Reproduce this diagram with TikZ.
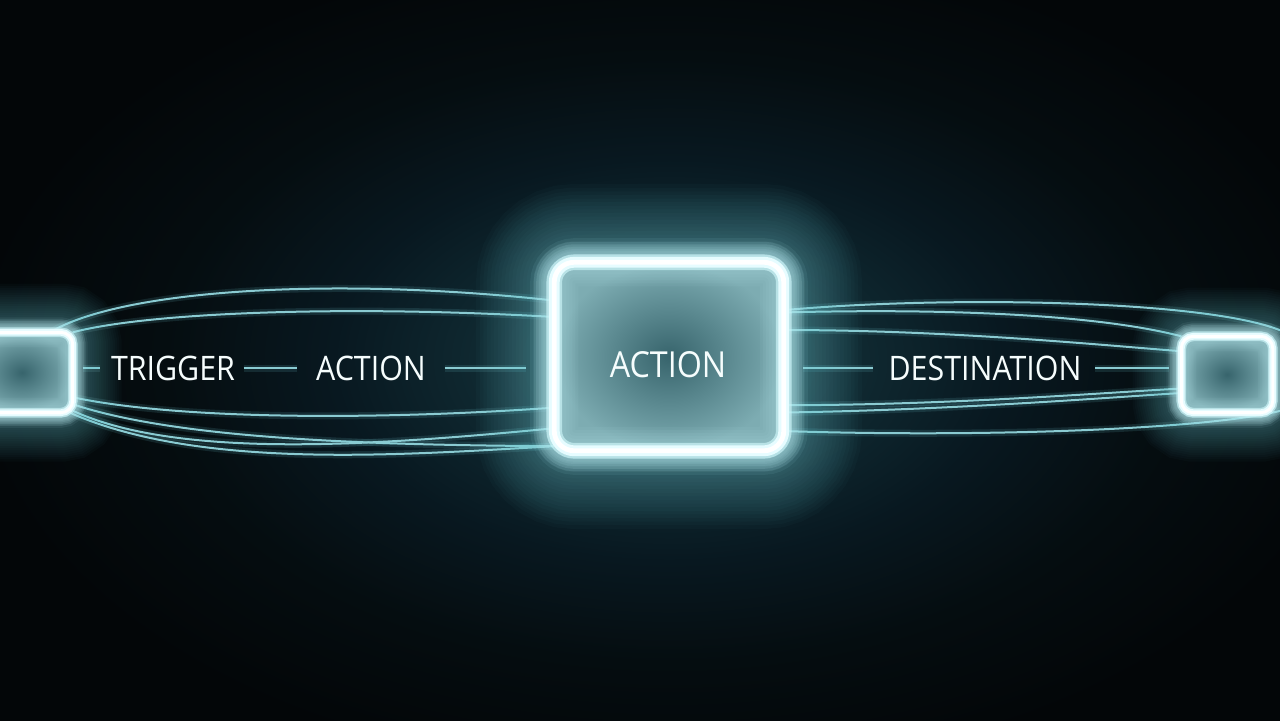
\documentclass[tikz,border=0pt]{standalone}
\usepackage{fontspec}
\setmainfont[FakeStretch=0.9]{Open Sans}
\definecolor{night}{HTML}{030608}
\definecolor{hazeA}{HTML}{1A3E46}
\definecolor{hazeB}{HTML}{0F2830}
\definecolor{hazeC}{HTML}{081820}
\definecolor{hazeD}{HTML}{050D10}
\definecolor{neon}{HTML}{7FE0EA}
\definecolor{filament}{HTML}{E6FCFF}
\definecolor{tealdeep}{HTML}{37646C}
\definecolor{tealpale}{HTML}{7DACB2}
\definecolor{strand}{HTML}{8ACBD2}
\pgfdeclareradialshading{backglow}{\pgfpoint{0bp}{0bp}}{color(0bp)=(hazeA); color(7bp)=(hazeB); color(12bp)=(hazeC); color(18bp)=(hazeD); color(25bp)=(night); color(50bp)=(night)}
\pgfdeclarelayer{backdrop}
\pgfdeclarelayer{wires}
\pgfdeclarelayer{halo}
\pgfsetlayers{backdrop,wires,halo,main}

\begin{document}
\begin{tikzpicture}
	[x=0.01cm,y=-0.01cm,line cap=round,
	%Styles
	panel/.style={rectangle,rounded corners=#1,inner color=tealdeep,outer color=tealpale,inner sep=0pt},
	tag/.style={text=labelcolor,inner sep=0pt,font=\fontsize{9.6}{11}\selectfont},
	wire/.style={draw=strand,line width=0.2mm,preaction={draw=neon,line width=0.7mm,draw opacity=0.12}},
	stub/.style={wire}
	]
	
	%Colors
	\colorlet{labelcolor}{white!93!neon}
	
	\useasboundingbox (0,0) rectangle (1280,720);
	
	%Background
	\begin{pgfonlayer}{backdrop}
		\shade[shading=backglow] (-31,-60) rectangle (1369,780);
	\end{pgfonlayer}
	
	%The boxes
	\node[panel=1.2mm,minimum width=1cm,minimum height=0.79cm] (src) at (22,372.5) {};
	\node[panel=2mm,minimum width=2.28cm,minimum height=1.87cm] (act) at (669,356.5) {};
	\node[panel=1.2mm,minimum width=0.9cm,minimum height=0.75cm] (dst) at (1227,374.5) {};
	
	\foreach \n/\r/\s in {src/1.2mm/0.75,act/2mm/1.2,dst/1.2mm/0.75}{
		\begin{pgfonlayer}{halo}
			\foreach \w in {130,124,...,10}
				\draw[neon,line width=\s*\w*0.1mm,opacity=0.022,rounded corners=\r] (\n.north west) rectangle (\n.south east);
			\foreach \w in {34,30,...,14}
				\draw[neon!50!white,line width=\s*\w*0.1mm,opacity=0.1,rounded corners=\r] (\n.north west) rectangle (\n.south east);
		\end{pgfonlayer}
		\foreach \w in {40,35,...,20}
			\draw[neon!50!white,line width=\s*\w*0.1mm,opacity=0.06,rounded corners=\r] (\n.north west) rectangle (\n.south east);
		\draw[neon!40!white,line width=\s*13*0.1mm,opacity=0.7,rounded corners=\r] (\n.north west) rectangle (\n.south east);
		\draw[filament,line width=\s*9*0.1mm,rounded corners=\r] (\n.north west) rectangle (\n.south east);
		\draw[white,line width=\s*4*0.1mm,rounded corners=\r] (\n.north west) rectangle (\n.south east);
	}
	
	%Labels
	\node[tag] (trig) at (173,368) {TRIGGER};
	\node[tag] (actl) at (371,368) {ACTION};
	\node[tag,font=\fontsize{10.2}{12}\selectfont] (acttxt) at (668,365) {ACTION};
	\node[tag] (dest) at (985,368) {DESTINATION};
	
	\coordinate (edgeA) at (1290,335);
	\coordinate (edgeB) at (1290,408);
	
	%Wires
	\begin{pgfonlayer}{wires}
		\draw[wire] (src.55) .. controls (120,290) and (330,276) .. (act.154);
		\draw[wire] (src.north east) .. controls (150,312) and (350,305) .. (act.161);
		\draw[wire] (src.-26) .. controls (180,420) and (380,420) .. (act.204);
		\draw[wire] (src.-32) .. controls (180,440) and (380,445) .. (act.218);
		\draw[wire] (src.-37) .. controls (180,460) and (380,445) .. (act.212);
		\draw[wire] (src.-40) .. controls (200,470) and (400,455) .. (act.218);
		
		\draw[wire] (act.22) .. controls (950,295) and (1230,300) .. (edgeA);
		\draw[wire] (act.21) .. controls (950,308) and (1100,315) .. (dst.north west);
		\draw[wire] (act.13) .. controls (950,330) and (1100,345) .. (dst.153);
		\draw[wire] (act.-23) .. controls (950,405) and (1100,393) .. (dst.197);
		\draw[wire] (act.-26) .. controls (950,410) and (1100,398) .. (dst.202);
		\draw[wire] (act.-33) .. controls (1000,438) and (1230,428) .. (edgeB);
		
		\draw[stub,shorten <=0.1cm,shorten >=0.1cm] (src.east |- trig.west) -- (trig.west);
		\draw[stub,shorten <=0.08cm,shorten >=0.18cm] (trig.east) -- (actl.west);
		\draw[stub,shorten <=0.18cm,shorten >=0.28cm] (actl.east) -- (act.west |- actl.east);
		\draw[stub,shorten <=0.19cm,shorten >=0.15cm] (act.east |- dest.west) -- (dest.west);
		\draw[stub,shorten <=0.13cm,shorten >=0.12cm] (dest.east) -- (dst.west |- dest.east);
	\end{pgfonlayer}
\end{tikzpicture}
\end{document}
